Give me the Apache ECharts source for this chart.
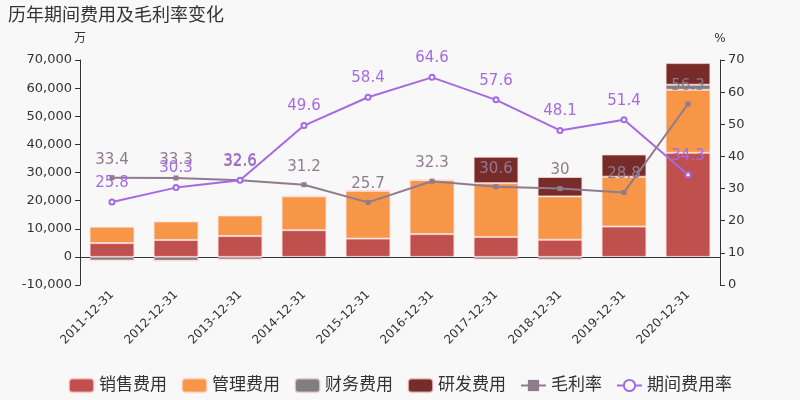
<!DOCTYPE html>
<html>
<head>
<meta charset="utf-8">
<script src="https://cdn.jsdelivr.net/npm/echarts@6/dist/echarts.min.js"></script>
<style>
  html, body { margin: 0; padding: 0; background: #f8f8f8; }
  #chart { width: 800px; height: 400px; }
</style>
</head>
<body>
<div id="chart"></div>
<script>
// 历年期间费用及毛利率变化
const years = ['2011-12-31', '2012-12-31', '2013-12-31', '2014-12-31', '2015-12-31',
  '2016-12-31', '2017-12-31', '2018-12-31', '2019-12-31', '2020-12-31'];
// 费用（万）
const salesFee = [4900, 6000, 7400, 9500, 6500, 8100, 7100, 6100, 10800, 37000];
const mgmtFee = [5800, 6600, 7300, 12000, 17000, 19200, 19100, 15400, 17700, 22400];
const financeFee = [-1300, -1400, -950, 0, 0, 0, -950, -1000, 0, 1800];
const rdFee = [0, 0, 0, 0, 0, 0, 9400, 6900, 7900, 7700];
// 比率（%）
const grossMargin = [33.4, 33.3, 32.6, 31.2, 25.7, 32.3, 30.6, 30, 28.8, 56.3];
const expenseRate = [25.8, 30.3, 32.6, 49.6, 58.4, 64.6, 57.6, 48.1, 51.4, 34.3];

const chart = echarts.init(document.getElementById('chart'));
const font = '"DejaVu Sans", "Noto Sans CJK SC", sans-serif';

const barItem = (name, color, data) => ({
  name: name,
  type: 'bar',
  stack: 'fee',
  barWidth: '70%',
  itemStyle: {
    color: color,
    borderColor: 'rgba(255,220,220,0.7)',
    borderWidth: 1
  },
  data: data
});

const option = {
  backgroundColor: '#f8f8f8',
  textStyle: { fontFamily: font },
  title: {
    text: '历年期间费用及毛利率变化',
    left: 3,
    top: 2,
    textStyle: { fontSize: 18, fontWeight: 'normal', color: '#333', fontFamily: font }
  },
  legend: {
    bottom: 1,
    left: 'center',
    itemWidth: 25,
    itemHeight: 14,
    itemGap: 14,
    textStyle: { fontSize: 17, color: '#333', fontFamily: font },
    data: [
      { name: '销售费用', icon: 'roundRect' },
      { name: '管理费用', icon: 'roundRect' },
      { name: '财务费用', icon: 'roundRect' },
      { name: '研发费用', icon: 'roundRect' },
      '毛利率',
      '期间费用率'
    ]
  },
  grid: { left: 80, right: 80, top: 60, bottom: 115 },
  xAxis: {
    type: 'category',
    data: years,
    axisLine: { lineStyle: { color: '#333' } },
    axisTick: { lineStyle: { color: '#333' } },
    axisLabel: { rotate: 45, fontSize: 12, color: '#333', interval: 0, fontFamily: font }
  },
  yAxis: [
    {
      type: 'value',
      name: '万',
      nameTextStyle: { color: '#333', fontSize: 12, fontFamily: font },
      min: -10000,
      max: 70000,
      interval: 10000,
      axisLine: { show: true, lineStyle: { color: '#333' } },
      axisTick: { show: true },
      axisLabel: { color: '#333', fontSize: 13, fontFamily: font },
      splitLine: { show: false }
    },
    {
      type: 'value',
      name: '%',
      nameTextStyle: { color: '#333', fontSize: 12, fontFamily: font },
      min: 0,
      max: 70,
      interval: 10,
      axisLine: { show: true, lineStyle: { color: '#333' } },
      axisTick: { show: true },
      axisLabel: { color: '#333', fontSize: 13, fontFamily: font },
      splitLine: { show: false }
    }
  ],
  series: [
    barItem('销售费用', '#c0504d', salesFee),
    barItem('管理费用', '#f79646', mgmtFee),
    barItem('财务费用', '#7f7f7f', financeFee),
    barItem('研发费用', '#772c2a', rdFee),
    {
      name: '毛利率',
      type: 'line',
      yAxisIndex: 1,
      symbol: 'rect',
      symbolSize: 5,
      itemStyle: { color: '#8e7c8e' },
      lineStyle: { width: 2, color: '#8e7c8e' },
      label: { show: true, position: 'top', fontSize: 15, color: '#8e7c8e', distance: 8, fontFamily: font },
      data: grossMargin
    },
    {
      name: '期间费用率',
      type: 'line',
      yAxisIndex: 1,
      symbol: 'emptyCircle',
      symbolSize: 5,
      itemStyle: { color: '#a56ae2' },
      lineStyle: { width: 2, color: '#a56ae2' },
      label: { show: true, position: 'top', fontSize: 15, color: '#a56ae2', distance: 8, fontFamily: font },
      data: expenseRate
    }
  ]
};

chart.setOption(option);
window.addEventListener('resize', () => chart && chart.resize());
</script>
</body>
</html>
